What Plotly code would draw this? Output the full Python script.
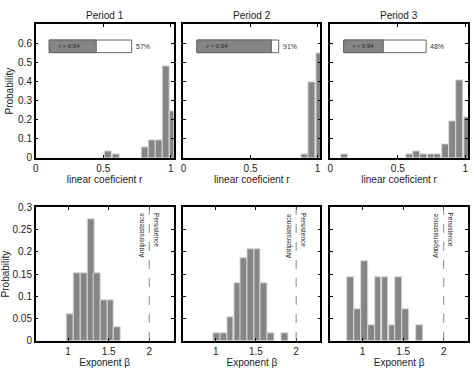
import plotly.graph_objects as go

# ---------------- data ----------------
periods = ["Period 1", "Period 2", "Period 3"]

r_centers_p1 = [0.538, 0.593, 0.807, 0.861, 0.911, 0.967, 1.019]
r_probs_p1 = [0.037, 0.018, 0.054, 0.092, 0.092, 0.478, 0.245]
r_centers_p2 = [0.908, 0.958, 1.014]
r_probs_p2 = [0.018, 0.398, 0.55]
r_centers_p3 = [0.108, 0.587, 0.640, 0.695, 0.748, 0.798, 0.853, 0.906, 0.960, 1.014]
r_probs_p3 = [0.018, 0.018, 0.037, 0.018, 0.018, 0.018, 0.071, 0.193, 0.405, 0.21]

beta_centers_p1 = [1.027, 1.116, 1.198, 1.280, 1.362, 1.444, 1.524, 1.606]
beta_probs_p1 = [2/33, 5/33, 5/33, 9/33, 5/33, 3/33, 3/33, 1/33]
beta_centers_p2 = [1.020, 1.102, 1.185, 1.273, 1.355, 1.436, 1.518, 1.600, 1.686, 1.857]
beta_probs_p2 = [0.016, 0.016, 0.054, 0.129, 0.186, 0.205, 0.205, 0.129, 0.016, 0.016]
beta_centers_p3 = [0.852, 0.941, 1.024, 1.109, 1.192, 1.279, 1.363, 1.446, 1.530, 1.702]
beta_probs_p3 = [4/28, 2/28, 5/28, 1/28, 4/28, 4/28, 1/28, 4/28, 2/28, 1/28]

pct_r_above = [57, 91, 48]
r_threshold_label = "r > 0.94"

r_tickvals = [0, 0.5, 1]
r_ticktext = ["0", "0.5", "1"]
beta_tickvals = [1, 1.5, 2]
beta_ticktext = ["1", "1.5", "2"]

r_centers = [r_centers_p1, r_centers_p2, r_centers_p3]
r_probs = [r_probs_p1, r_probs_p2, r_probs_p3]
beta_centers = [beta_centers_p1, beta_centers_p2, beta_centers_p3]
beta_probs = [beta_probs_p1, beta_probs_p2, beta_probs_p3]

# ---------------- layout geometry ----------------
W, H = 474, 373
FONT = "Liberation Sans, Arial, Helvetica, sans-serif"
col_px = [(33, 172), (182, 320), (330, 469)]
top_px = (19, 157)
bot_px = (208, 346)

def xd(a, b):
    return [a / W, b / W]

def yd(top, bot):
    return [1 - bot / H, 1 - top / H]

BAR_FILL = "#858585"
BAR_EDGE = "#d8d8d8"

fig = go.Figure()
layout = dict(
    width=W, height=H,
    margin=dict(l=0, r=0, t=0, b=0),
    paper_bgcolor="white", plot_bgcolor="white",
    showlegend=False,
    font=dict(family=FONT, size=10, color="#222"),
)
annotations = []
shapes = []

axis_common = dict(
    showline=True, linecolor="black", linewidth=1.5, mirror="ticks",
    ticks="inside", ticklen=3, tickcolor="black", tickwidth=1,
    showgrid=False, zeroline=False,
    tickfont=dict(family=FONT, size=10, color="#222"),
)

for i in range(3):
    # top row
    xa = f"x{2*i+1}" if 2*i+1 > 1 else "x"
    ya = f"y{2*i+1}" if 2*i+1 > 1 else "y"
    fig.add_trace(go.Bar(
        x=r_centers[i], y=r_probs[i], width=0.052,
        marker=dict(color=BAR_FILL, line=dict(color=BAR_EDGE, width=1)),
        xaxis=xa, yaxis=ya,
    ))
    xk = "xaxis" if i == 0 else f"xaxis{2*i+1}"
    yk = "yaxis" if i == 0 else f"yaxis{2*i+1}"
    layout[xk] = dict(
        axis_common, domain=xd(*col_px[i]), anchor=ya, range=[0, 1.02],
        tickvals=r_tickvals, ticktext=r_ticktext,
        title=dict(text="linear coeficient r", font=dict(family=FONT, size=10, color="#222"), standoff=2),
    )
    layout[yk] = dict(
        axis_common, domain=yd(*top_px), anchor=xa, range=[0, 0.7],
        tickvals=[0, 0.1, 0.2, 0.3, 0.4, 0.5, 0.6],
        showticklabels=(i == 0),
    )
    if i == 0:
        layout[yk]["title"] = dict(text="Probability", font=dict(family=FONT, size=10, color="#222"), standoff=3)

    # inset summary bar
    x0, x1 = 0.1, 0.71
    xm = x0 + (x1 - x0) * pct_r_above[i] / 100.0
    yr = "y" if i == 0 else ya
    xr = "x" if i == 0 else xa
    shapes.append(dict(type="rect", xref=xr, yref=yr, x0=x0, x1=x1, y0=0.552, y1=0.618,
                       fillcolor="white", line=dict(color="#666", width=1)))
    shapes.append(dict(type="rect", xref=xr, yref=yr, x0=x0, x1=xm, y0=0.552, y1=0.618,
                       fillcolor=BAR_FILL, line=dict(color="#666", width=1)))
    annotations.append(dict(xref=xr, yref=yr, x=0.25, y=0.585, text=r_threshold_label,
                            showarrow=False, font=dict(family=FONT, size=6, color="#222"),
                            xanchor="center", yanchor="middle"))
    annotations.append(dict(xref=xr, yref=yr, x=x1 + 0.015, y=0.585, text=f"{pct_r_above[i]}%",
                            showarrow=False, font=dict(family=FONT, size=7, color="#333"),
                            xanchor="left", yanchor="middle"))

    # title
    annotations.append(dict(xref="paper", yref="paper",
                            x=(col_px[i][0] + col_px[i][1]) / 2 / W, y=1 - 10 / H,
                            text=periods[i], showarrow=False,
                            font=dict(family=FONT, size=10, color="#222"),
                            xanchor="center", yanchor="middle"))

    # bottom row
    n = 2*i + 2
    xa2, ya2 = f"x{n}", f"y{n}"
    fig.add_trace(go.Bar(
        x=beta_centers[i], y=beta_probs[i], width=0.083,
        marker=dict(color=BAR_FILL, line=dict(color=BAR_EDGE, width=1)),
        xaxis=xa2, yaxis=ya2,
    ))
    layout[f"xaxis{n}"] = dict(
        axis_common, domain=xd(*col_px[i]), anchor=ya2, range=[0.6, 2.3],
        tickvals=beta_tickvals, ticktext=beta_ticktext,
        title=dict(text="Exponent β", font=dict(family=FONT, size=10, color="#222"), standoff=2),
    )
    layout[f"yaxis{n}"] = dict(
        axis_common, domain=yd(*bot_px), anchor=xa2, range=[0, 0.3],
        tickvals=[0, 0.05, 0.1, 0.15, 0.2, 0.25, 0.3],
        ticktext=["0", "0.05", "0.1", "0.15", "0.2", "0.25", "0.3"],
        showticklabels=(i == 0),
    )
    if i == 0:
        layout[f"yaxis{n}"]["title"] = dict(text="Probability", font=dict(family=FONT, size=10, color="#222"), standoff=3)

    shapes.append(dict(type="line", xref=xa2, yref=ya2, x0=2, x1=2, y0=0, y1=0.3,
                       line=dict(color="#888", width=1, dash="dash")))
    annotations.append(dict(xref=xa2, yref=ya2, x=1.985, y=0.292, text="Antipersistence",
                            textangle=-90, showarrow=False,
                            font=dict(family=FONT, size=6.5, color="#222"),
                            xanchor="right", yanchor="top"))
    annotations.append(dict(xref=xa2, yref=ya2, x=2.015, y=0.292, text="Persistence",
                            textangle=90, showarrow=False,
                            font=dict(family=FONT, size=6.5, color="#222"),
                            xanchor="left", yanchor="top"))

layout["annotations"] = annotations
layout["shapes"] = shapes
layout["bargap"] = 0
fig.update_layout(**layout)
fig.write_html("out.html")
